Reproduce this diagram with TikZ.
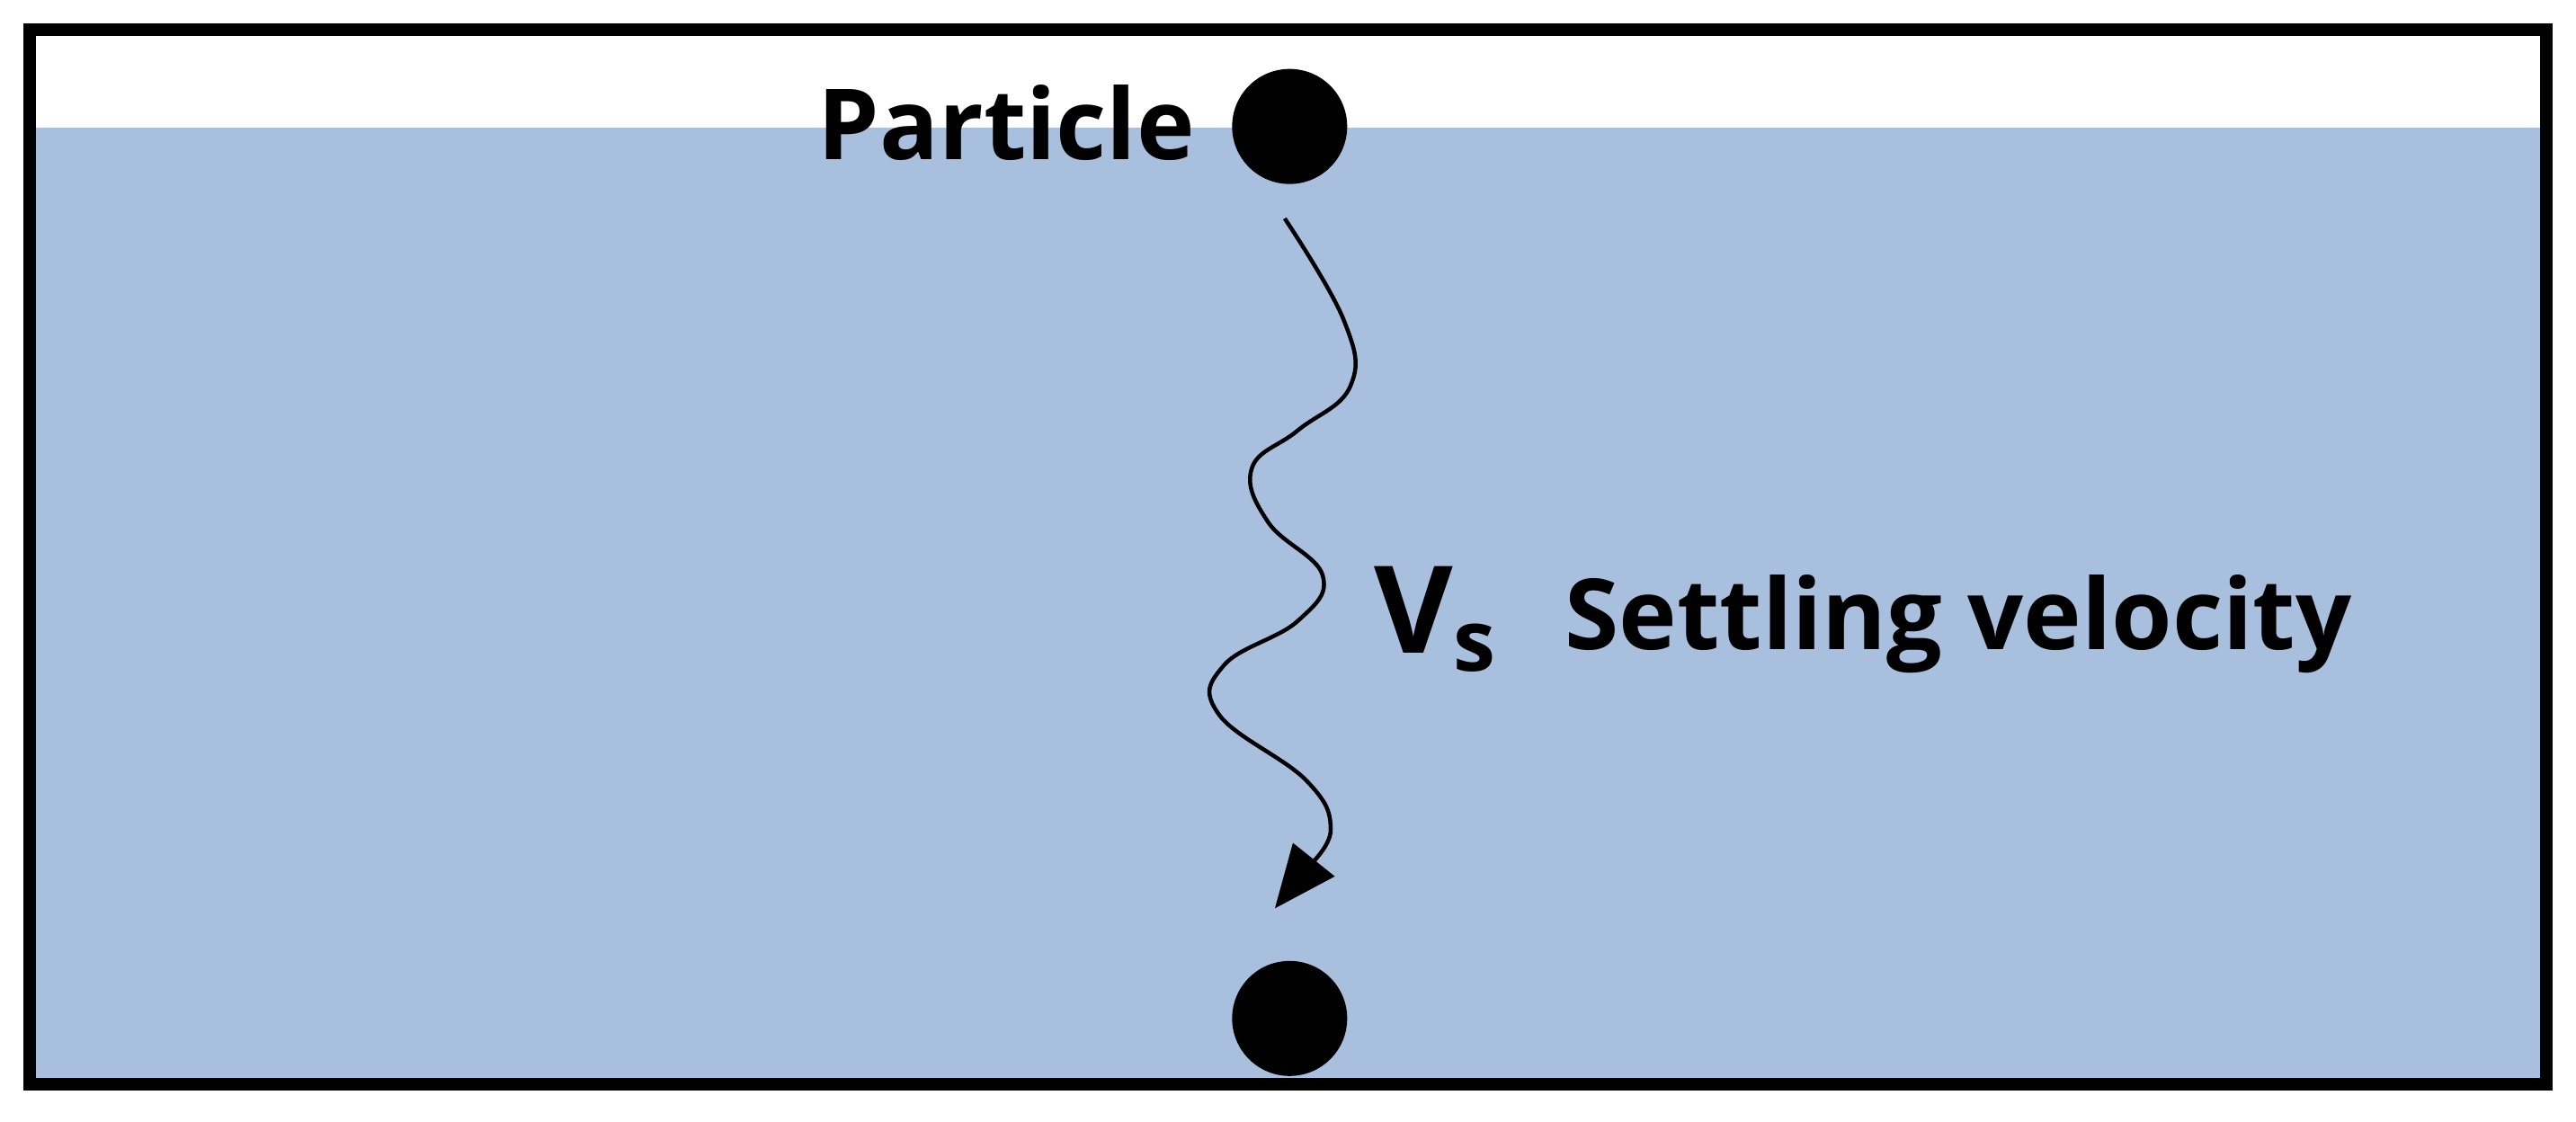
\documentclass[tikz,border=0pt]{standalone}
\usepackage{fontspec}
\setmainfont{Open Sans}
\usetikzlibrary{arrows.meta}
\definecolor{water}{HTML}{A8C0DE}
\tikzset{lbl/.style={font=\fontsize{17}{20}\selectfont\bfseries, inner sep=0pt},
ball/.style={circle, fill=black, minimum size=0.7cm, inner sep=0pt}}
\begin{document}
\begin{tikzpicture}[x=0.01cm,y=-0.01cm]
\useasboundingbox (0,0) rectangle (1568,683);
\fill[white] (0,0) rectangle (1568,683);
\fill[water] (18,78) rectangle (1550,662);
\draw[line width=0.08cm] (18,18) rectangle (1550,660);
\node[ball] (p1) at (785,77) {};
\node[ball] (p2) at (785,620) {};
\node[lbl, anchor=east] (pl) at (728,75) {Particle};
\coordinate (e) at (776,553);
\draw[line width=0.7pt, -{Triangle[length=0.38cm,width=0.32cm]}] plot[smooth, tension=0.7] coordinates {(782,133) (818,195) (822,235) (790,262) (762,285) (772,318) (805,350) (790,378) (745,405) (742,435) (795,475) (810,505) (796,528)} -- (e);
\node[lbl, anchor=west, font=\fontsize{21}{24}\selectfont\bfseries] (vs) at (836,377) {V\textsubscript{s}};
\node[lbl, anchor=west] (sv) at (952,380) {Settling velocity};
\end{tikzpicture}
\end{document}
